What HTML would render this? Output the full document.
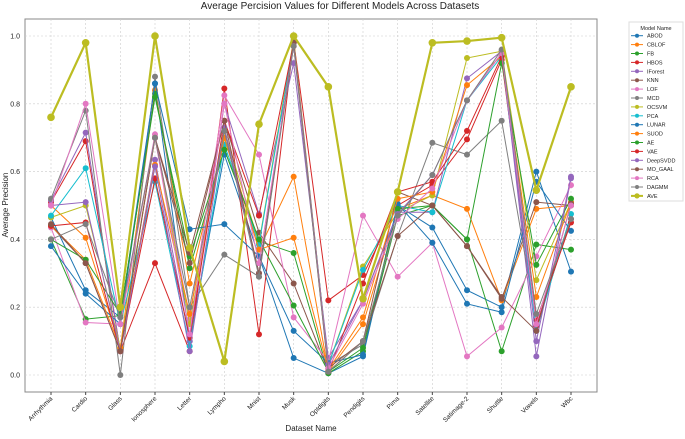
<!DOCTYPE html>
<html><head><meta charset="utf-8"><style>
body{margin:0;background:#fff;font-family:"Liberation Sans",sans-serif}
svg text{font-family:"Liberation Sans",sans-serif}
</style></head><body>
<svg id="chart" width="685" height="434" xmlns="http://www.w3.org/2000/svg">
<text x="340" y="9" font-size="10" text-anchor="middle" fill="#222">Average Percision Values for Different Models Across Datasets</text>
<rect x="25" y="19" width="572" height="373" fill="none" stroke="#888"/>
<g id="grid"></g><g id="series"></g><g id="axes"></g>
<text x="311" y="431" font-size="8" text-anchor="middle" fill="#222">Dataset Name</text>
<text transform="translate(8,205) rotate(-90)" font-size="8" text-anchor="middle" fill="#222">Average Precision</text>
<rect x="629" y="22" width="54" height="179" fill="#fff" stroke="#ddd"/>
<text x="656" y="30" font-size="5.5" text-anchor="middle" fill="#222">Model Name</text>
<g id="legend"></g>
</svg>
<script>
const categories=["Arrhythmia","Cardio","Glass","Ionosphere","Letter","Lympho","Mnist","Musk","Optdigits","Pendigits","Pima","Satellite","Satimage-2","Shuttle","Vowels","Wbc"];
const models=["ABOD","CBLOF","FB","HBOS","IForest","KNN","LOF","MCD","OCSVM","PCA","LUNAR","SUOD","AE","VAE","DeepSVDD","MO_GAAL","RCA","DAGMM","AVE"];
const colors=["#1f77b4","#ff7f0e","#2ca02c","#d62728","#9467bd","#8c564b","#e377c2","#7f7f7f","#bcbd22","#17becf","#1f77b4","#ff7f0e","#2ca02c","#d62728","#9467bd","#8c564b","#e377c2","#7f7f7f","#bcbd22"];
const yTicks=[0,0.2,0.4,0.6,0.8,1.0];
const vABOD=[.465,.25,.17,.86,.10,.65,.35,.05,.005,.055,.50,.435,.25,.20,.60,.305];
const vCBLOF=[.50,.405,.08,.84,.27,.70,.37,.585,.01,.15,.49,.53,.49,.22,.49,.50];
const vFB=[.40,.165,.175,.83,.315,.665,.395,.36,.005,.07,.47,.50,.40,.07,.385,.37];
const vHBOS=[.51,.69,.07,.33,.07,.845,.12,.985,.22,.295,.50,.56,.695,.93,.145,.46];
const vIForest=[.515,.715,.07,.635,.10,.80,.475,.92,.05,.22,.48,.48,.875,.955,.055,.58];
const vKNN=[.44,.33,.07,.70,.33,.75,.42,.27,.01,.10,.54,.50,.38,.225,.51,.50];
const vLOF=[.435,.155,.15,.71,.165,.825,.65,.17,.04,.47,.29,.39,.055,.14,.35,.56];
const vMCD=[.52,.78,.0,.88,.20,.355,.29,.98,.03,.09,.41,.685,.65,.75,.16,.46];
const vOCSVM=[.465,.50,.08,.70,.15,.72,.39,.99,.03,.32,.48,.53,.935,.955,.28,.51];
const vPCA=[.47,.61,.15,.57,.085,.68,.385,.98,.03,.31,.50,.48,.81,.94,.13,.475];
const vLUNAR=[.38,.24,.15,.86,.43,.445,.35,.13,.035,.06,.505,.39,.21,.185,.57,.425];
const vSUOD=[.44,.34,.08,.62,.18,.70,.37,.405,.015,.17,.52,.54,.855,.94,.23,.51];
const vAE=[.40,.34,.18,.82,.35,.665,.40,.205,.01,.08,.49,.50,.40,.92,.325,.52];
const vVAE=[.44,.45,.07,.58,.11,.75,.47,.98,.01,.27,.54,.57,.72,.94,.16,.45];
const vDeepSVDD=[.50,.51,.07,.615,.07,.73,.30,.98,.03,.22,.475,.59,.81,.95,.10,.585];
const vMOGAAL=[.445,.33,.07,.70,.36,.75,.30,.98,.02,.10,.41,.50,.38,.23,.13,.505];
const vRCA=[.50,.80,.15,.70,.12,.80,.33,.97,.02,.21,.46,.55,.81,.95,.15,.50];
const vDAGMM=[.40,.445,.17,.70,.20,.72,.29,.97,.01,.10,.47,.59,.81,.96,.18,.46];
const vAVE=[.76,.98,.20,1.0,.375,.04,.74,1.0,.85,.225,.54,.98,.985,.995,.545,.85];
const seriesValues=[vABOD,vCBLOF,vFB,vHBOS,vIForest,vKNN,vLOF,vMCD,vOCSVM,vPCA,vLUNAR,vSUOD,vAE,vVAE,vDeepSVDD,vMOGAAL,vRCA,vDAGMM,vAVE];

const NS="http://www.w3.org/2000/svg";
function xS(i){return 51+i*(571-51)/(categories.length-1);}
function yS(v){return 375-v*339;}
function mk(t,a,p){const e=document.createElementNS(NS,t);for(const k in a)e.setAttribute(k,a[k]);p.appendChild(e);return e;}
const grid=document.getElementById('grid'),axes=document.getElementById('axes'),ser=document.getElementById('series'),leg=document.getElementById('legend');
yTicks.forEach(t=>{
 const l=mk('line',{x1:25,x2:597,y1:yS(t),y2:yS(t),stroke:'#ccc','stroke-dasharray':'2,2','stroke-width':0.6},grid);
 
 
 const tx=mk('text',{x:20,y:yS(t)+2.5,'font-size':7,'text-anchor':'end',fill:'#222'},axes);
 tx.textContent=t.toFixed(1);
 
 
});
categories.forEach((c,i)=>{
 const l=mk('line',{x1:xS(i),x2:xS(i),y1:19,y2:392,stroke:'#ccc','stroke-dasharray':'2,2','stroke-width':0.6},grid);
 
 
 mk('line',{x1:xS(i),x2:xS(i),y1:392,y2:395,stroke:'#444'},axes);
 const tx=mk('text',{transform:`translate(${xS(i)+2},${399}) rotate(-45)`,'font-size':6.5,'text-anchor':'end',fill:'#222'},axes);
 tx.textContent=c;
 
 
});
seriesValues.forEach((vals,s)=>{
 const isAve=models[s]==='AVE';
 const g=mk('g',{},ser);
 
 
 mk('polyline',{points:vals.map((v,i)=>xS(i)+','+yS(v)).join(' '),fill:'none',stroke:colors[s],'stroke-width':isAve?2.2:1},g);
 vals.forEach((v,i)=>{
  const c=mk('circle',{cx:xS(i),cy:yS(v),r:isAve?3.8:3,fill:colors[s]},g);
  
  
 });
 const y=35.7+s*8.9;
 const le=mk('g',{},leg);
 
 
 mk('line',{x1:631,x2:643,y1:y,y2:y,stroke:colors[s],'stroke-width':isAve?2:1},le);
 mk('circle',{cx:637,cy:y,r:isAve?2.6:2,fill:colors[s]},le);
 const t=mk('text',{x:647,y:y+2,'font-size':5.5,fill:'#222'},le);
 t.textContent=models[s];
});
</script>
</body></html>
